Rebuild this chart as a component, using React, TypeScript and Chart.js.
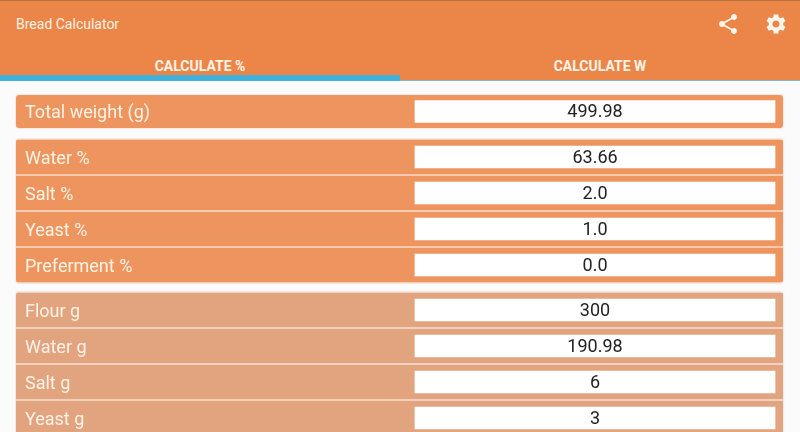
import { useEffect, useRef } from 'react';
import { Chart, registerables } from 'chart.js';

Chart.register(...registerables);

const totalLabels = ['Total weight (g)'];
const totalValues = ['499.98'];

const percentLabels = ['Water %', 'Salt %', 'Yeast %', 'Preferment %'];
const percentValues = ['63.66', '2.0', '1.0', '0.0'];

const gramLabels = ['Flour g', 'Water g', 'Salt g', 'Yeast g'];
const gramValues = ['300', '190.98', '6', '3'];

const FONT = 'Roboto, sans-serif';
const ROW_HEIGHT = 36;

// draws the text of each input field, centred on its white bar
const fieldText = {
  id: 'fieldText',
  afterDatasetsDraw(chart: any) {
    const values = chart.options.plugins.fieldText.values as string[];
    const bars = chart.getDatasetMeta(1).data;
    const { ctx } = chart;
    ctx.save();
    ctx.font = `18px ${FONT}`;
    ctx.fillStyle = '#222222';
    ctx.textAlign = 'center';
    ctx.textBaseline = 'middle';
    bars.forEach((bar: any, i: number) => {
      const { x, base, y } = bar.getProps(['x', 'base', 'y']);
      ctx.fillText(values[i], (x + base) / 2, y + 1);
    });
    ctx.restore();
  },
};

function Panel({ top, height, labels, values, color, barHeight = 34.5 }: {
  top: number;
  height: number;
  labels: string[];
  values: string[];
  color: string;
  barHeight?: number;
}) {
  const ref = useRef<HTMLCanvasElement>(null);

  useEffect(() => {
    if (!ref.current) return;
    const chart = new Chart(ref.current, {
      type: 'bar',
      plugins: [fieldText],
      data: {
        labels,
        datasets: [
          {
            label: 'row',
            data: labels.map(() => [0, 1]),
            backgroundColor: color,
            barThickness: barHeight,
            order: 2,
            grouped: false,
          },
          {
            label: 'field',
            data: labels.map(() => [0.5202, 0.9896]),
            backgroundColor: '#ffffff',
            barThickness: 22,
            order: 1,
            grouped: false,
          },
        ],
      } as any,
      options: {
        indexAxis: 'y',
        animation: false,
        responsive: false,
        layout: { padding: 0 },
        plugins: {
          legend: { display: false },
          tooltip: { enabled: false },
          fieldText: { values },
        } as any,
        scales: {
          x: { display: false, min: 0, max: 1 },
          y: {
            grid: { display: false },
            border: { display: false },
            // labels sit inside the rows, so the axis takes no room at all
            afterFit: (scale: any) => {
              scale.width = 0;
              scale.paddingTop = 0;
              scale.paddingBottom = 0;
            },
            ticks: {
              mirror: true,
              z: 1,
              padding: 9,
              labelOffset: 2,
              color: '#fff3e6',
              font: { family: FONT, size: 18 },
            },
          },
        },
      },
    });
    return () => chart.destroy();
  }, []);

  return (
    <div style={{
      position: 'absolute', left: 16, top, width: 767, height,
      background: '#ffffff', borderRadius: 3, overflow: 'hidden',
      boxShadow: '0 0 2px rgba(190,150,120,0.55)',
    }}>
      <canvas ref={ref} width={767} height={height} style={{ display: 'block' }} />
    </div>
  );
}

const tabStyle = {
  position: 'absolute', top: 58, width: 400, textAlign: 'center',
  font: `bold 14px ${FONT}`, color: '#fff3e6', lineHeight: '16px',
} as const;

export default function App() {
  return (
    <div style={{ position: 'relative', width: 800, height: 432, overflow: 'hidden', background: '#fbfbfb', fontFamily: FONT }}>
      <style>{'html,body{margin:0;padding:0;overflow:hidden}'}</style>

      <div style={{ position: 'absolute', left: 0, top: 0, width: 800, height: 80, background: '#ec8648', borderTop: '1px solid #b9703f', boxSizing: 'border-box' }} />
      <div style={{ position: 'absolute', left: 16, top: 16, font: `14px ${FONT}`, lineHeight: '16px', color: '#fff3e6' }}>Bread Calculator</div>

      <svg style={{ position: 'absolute', left: 716, top: 12 }} width={24} height={24} viewBox="0 0 24 24" fill="#fff6ee">
        <path d="M18 16.08c-.76 0-1.44.3-1.96.77L8.91 12.7c.05-.23.09-.46.09-.7s-.04-.47-.09-.7l7.05-4.11c.54.5 1.25.81 2.04.81 1.66 0 3-1.34 3-3s-1.34-3-3-3-3 1.34-3 3c0 .24.04.47.09.7L8.04 9.81C7.5 9.31 6.79 9 6 9c-1.66 0-3 1.34-3 3s1.34 3 3 3c.79 0 1.5-.31 2.04-.81l7.12 4.16c-.05.21-.08.43-.08.65 0 1.61 1.31 2.92 2.92 2.92s2.92-1.31 2.92-2.92-1.31-2.92-2.92-2.92z" />
      </svg>
      <svg style={{ position: 'absolute', left: 764, top: 12 }} width={24} height={24} viewBox="0 0 24 24" fill="#fff6ee">
        <path d="M19.14 12.94c.04-.3.06-.61.06-.94s-.02-.64-.07-.94l2.03-1.58c.18-.14.23-.41.12-.61l-1.92-3.32c-.12-.22-.37-.29-.59-.22l-2.39.96c-.5-.38-1.03-.7-1.62-.94l-.36-2.54c-.04-.24-.24-.41-.48-.41h-3.84c-.24 0-.43.17-.47.41l-.36 2.54c-.59.24-1.13.57-1.62.94l-2.39-.96c-.22-.08-.47 0-.59.22L2.74 8.87c-.12.21-.08.47.12.61l2.03 1.58c-.05.3-.09.63-.09.94s.02.64.07.94l-2.03 1.58c-.18.14-.23.41-.12.61l1.92 3.32c.12.22.37.29.59.22l2.39-.96c.5.38 1.03.7 1.62.94l.36 2.54c.05.24.24.41.48.41h3.84c.24 0 .44-.17.47-.41l.36-2.54c.59-.24 1.13-.56 1.62-.94l2.39.96c.22.08.47 0 .59-.22l1.92-3.32c.12-.22.07-.47-.12-.61l-2.01-1.58zM12 15.6c-1.98 0-3.6-1.62-3.6-3.6s1.62-3.6 3.6-3.6 3.6 1.62 3.6 3.6-1.62 3.6-3.6 3.6z" />
      </svg>

      <div style={{ ...tabStyle, left: 0 }}>CALCULATE %</div>
      <div style={{ ...tabStyle, left: 400 }}>CALCULATE W</div>
      <div style={{ position: 'absolute', left: 0, top: 75, width: 400, height: 6, background: '#3fb0da' }} />
      <div style={{ position: 'absolute', left: 400, top: 80, width: 400, height: 1, background: '#7fb8c8' }} />

      <Panel top={95} height={33} labels={totalLabels} values={totalValues} color="#ee955f" barHeight={33} />
      <Panel top={139} height={ROW_HEIGHT * 4} labels={percentLabels} values={percentValues} color="#ee955f" />
      <Panel top={292} height={ROW_HEIGHT * 4} labels={gramLabels} values={gramValues} color="#e2a37f" />
    </div>
  );
}
